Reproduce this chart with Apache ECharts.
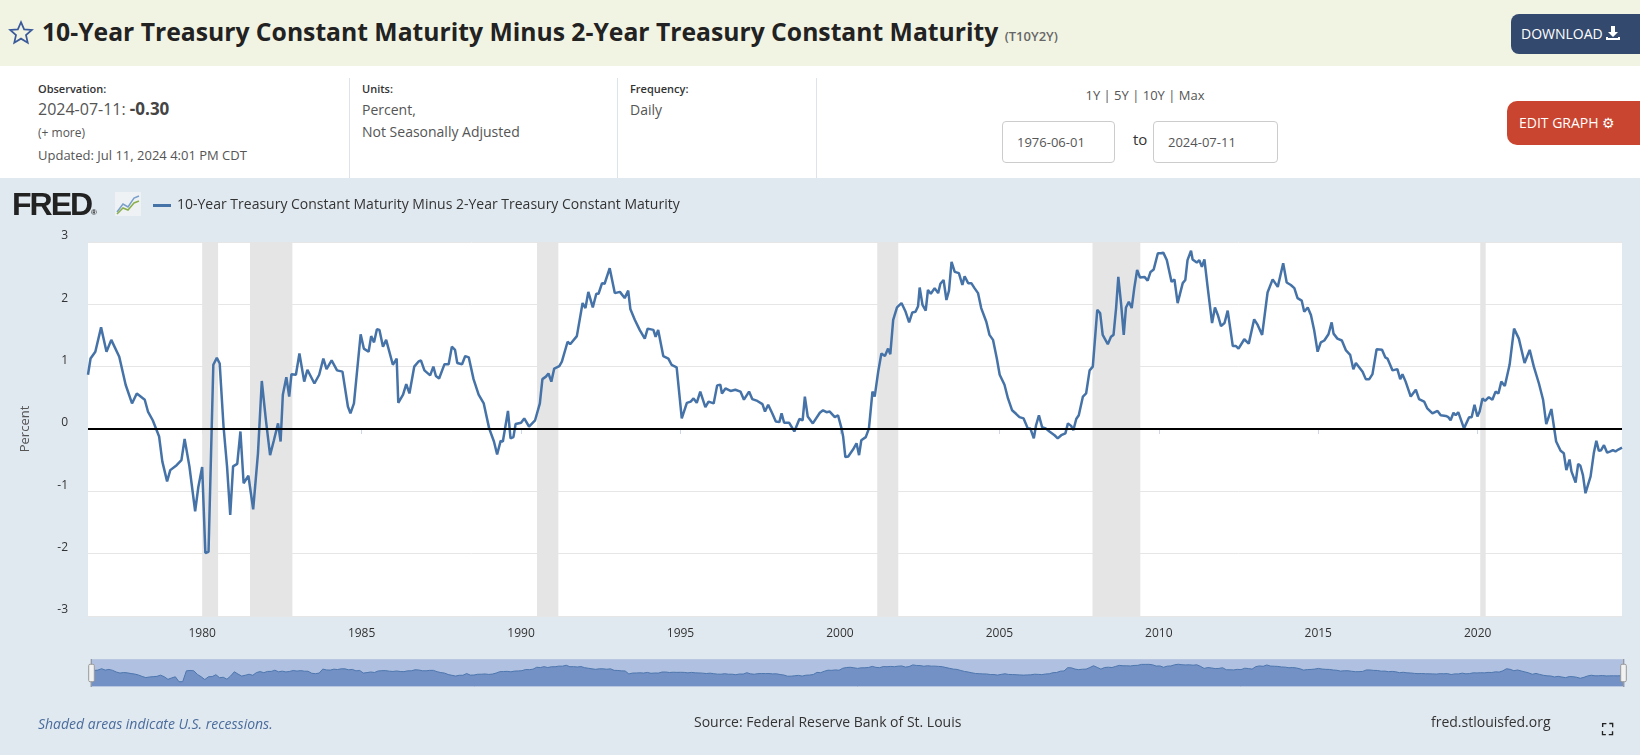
<!DOCTYPE html>
<html>
<head>
<meta charset="utf-8">
<script src="https://cdn.jsdelivr.net/npm/echarts@6/dist/echarts.min.js"></script>
<style>
  body { margin: 0; width: 1640px; height: 755px; overflow: hidden; font-family: "Open Sans", "Noto Sans", sans-serif; background: #fff; position: relative; }
  .abs { position: absolute; white-space: nowrap; }
  #head { position: absolute; left: 0; top: 0; width: 1640px; height: 66px; background: #f2f4e3; }
  #info { position: absolute; left: 0; top: 66px; width: 1640px; height: 112px; background: #fff; }
  .lbl { font-size: 11px; font-weight: 600; color: #333; }
  .val { font-size: 14px; color: #555; line-height: 22px; }
  .div { position: absolute; top: 12px; width: 1px; height: 100px; background: #dde3ea; }
  .inp { position: absolute; border: 1px solid #ccc; border-radius: 4px; font-size: 13px; color: #555; line-height: 40px; padding-left: 14px; box-sizing: border-box; height: 42px; }
  #chartWrap { position: absolute; left: 0; top: 178px; width: 1640px; height: 577px; background: #e1e9f0; }
  #chart { position: absolute; left: 0; top: 0; width: 1640px; height: 577px; }
</style>
</head>
<body>
<div id="head">
  <svg class="abs" style="left:8px;top:20px" width="26" height="26" viewBox="0 0 24 24"><path d="M12 2l2.9 6.6 7.1.6-5.4 4.7 1.6 7-6.2-3.7-6.2 3.7 1.6-7L2 9.2l7.1-.6z" fill="none" stroke="#3b5a9a" stroke-width="1.6"/></svg>
  <div class="abs" style="left:42px;top:15px;font-size:24.7px;font-weight:700;color:#222">10-Year Treasury Constant Maturity Minus 2-Year Treasury Constant Maturity <span style="font-size:13px;font-weight:600;color:#666">(T10Y2Y)</span></div>
  <div class="abs" style="left:1511px;top:14px;width:129px;height:40px;background:#34496e;border-radius:8px 0 0 8px;color:#fff;font-size:14px;line-height:40px;padding-left:10px;box-sizing:border-box">DOWNLOAD <svg width="14" height="14" viewBox="0 0 14 14" style="vertical-align:-1px"><path d="M5 0h4v6h3l-5 5-5-5h3z M0 11h2v1h10v-1h2v3H0z" fill="#fff"/></svg></div>
</div>
<div id="info">
  <div class="abs lbl" style="left:38px;top:15px">Observation:</div>
  <div class="abs val" style="left:38px;top:32px;font-size:16px">2024-07-11: <b style="color:#444;font-size:17px">-0.30</b></div>
  <div class="abs val" style="left:38px;top:56px;font-size:12px">(+ more)</div>
  <div class="abs val" style="left:38px;top:78px;font-size:13px">Updated: Jul 11, 2024 4:01 PM CDT</div>
  <div class="div" style="left:349px"></div>
  <div class="abs lbl" style="left:362px;top:15px">Units:</div>
  <div class="abs val" style="left:362px;top:33px">Percent,<br>Not Seasonally Adjusted</div>
  <div class="div" style="left:617px"></div>
  <div class="abs lbl" style="left:630px;top:15px">Frequency:</div>
  <div class="abs val" style="left:630px;top:33px">Daily</div>
  <div class="div" style="left:816px"></div>
  <div class="abs" style="left:1080px;top:20px;width:130px;text-align:center;font-size:13px;color:#555">1Y | 5Y | 10Y | Max</div>
  <div class="inp" style="left:1002px;top:55px;width:113px">1976-06-01</div>
  <div class="abs" style="left:1133px;top:63px;font-size:15px;color:#333">to</div>
  <div class="inp" style="left:1153px;top:55px;width:125px">2024-07-11</div>
  <div class="abs" style="left:1507px;top:35px;width:133px;height:44px;background:#c9452f;border-radius:10px 0 0 10px;color:#fff;font-size:14px;line-height:44px;padding-left:12px;box-sizing:border-box">EDIT GRAPH &#x2699;</div>
</div>
<div id="chartWrap">
  <div id="chart"></div>
  <div class="abs" style="left:12px;top:8px;font-size:32px;font-weight:900;color:#222;letter-spacing:-2px;font-family:'Liberation Sans',Arial,sans-serif">FRED<span style="font-size:8px">®</span></div>
  <svg class="abs" style="left:115px;top:14px" width="26" height="24"><rect width="26" height="24" fill="#eef2f4"/><polyline points="2,20 8,12 13,15 19,6 24,4" fill="none" stroke="#7a9fcb" stroke-width="1.5"/><polyline points="2,22 8,16 13,18 19,11 24,9" fill="none" stroke="#8bb04b" stroke-width="1.5"/></svg>
  <div class="abs" style="left:153px;top:16px;font-size:14px;color:#333"><span style="display:inline-block;width:18px;height:3px;background:#4572a7;vertical-align:middle;margin-right:6px"></span>10-Year Treasury Constant Maturity Minus 2-Year Treasury Constant Maturity</div>
  <div class="abs" style="left:38px;top:536px;font-size:14px;font-style:italic;color:#4a6c9c">Shaded areas indicate U.S. recessions.</div>
  <div class="abs" style="left:694px;top:534px;font-size:14px;color:#333">Source: Federal Reserve Bank of St. Louis</div>
  <div class="abs" style="left:1431px;top:534px;font-size:14px;color:#333">fred.stlouisfed.org</div>
  <div class="abs" style="left:1602px;top:540px;font-size:16px;color:#222;font-weight:700">&#x26F6;</div>
</div>
<script>
// decimal years and spread values
const years = [
  1976.42, 1976.5, 1976.65, 1976.83, 1977.0, 1977.15, 1977.4, 1977.6, 1977.8, 1977.95,
  1978.2, 1978.3, 1978.45, 1978.65, 1978.75, 1978.9, 1979.0, 1979.2, 1979.35, 1979.45,
  1979.6, 1979.78, 1979.88, 1980.0, 1980.1, 1980.2, 1980.35, 1980.46, 1980.55, 1980.67,
  1980.78, 1980.88, 1980.97, 1981.1, 1981.2, 1981.3, 1981.45, 1981.6, 1981.75, 1981.87,
  1982.0, 1982.13, 1982.25, 1982.38, 1982.46, 1982.53, 1982.64, 1982.73, 1982.8, 1982.94,
  1983.05, 1983.2, 1983.3, 1983.52, 1983.67, 1983.8, 1983.9, 1984.06, 1984.23, 1984.4,
  1984.57, 1984.65, 1984.76, 1984.97, 1985.07, 1985.22, 1985.3, 1985.39, 1985.48, 1985.56,
  1985.67, 1985.77, 1985.98, 1986.1, 1986.15, 1986.3, 1986.4, 1986.5, 1986.65, 1986.78,
  1986.86, 1986.97, 1987.15, 1987.25, 1987.33, 1987.43, 1987.6, 1987.73,
  1987.83, 1987.93, 1988.0, 1988.15, 1988.25, 1988.36, 1988.51, 1988.67, 1988.83, 1989.0,
  1989.15, 1989.25, 1989.36, 1989.43, 1989.59, 1989.67, 1989.76, 1989.83, 1990.0, 1990.1,
  1990.25, 1990.44, 1990.59, 1990.67, 1990.78, 1990.86, 1990.95, 1991.04, 1991.2, 1991.28,
  1991.46, 1991.54, 1991.75, 1991.93, 1992.02, 1992.11, 1992.25, 1992.36, 1992.43, 1992.54,
  1992.62, 1992.78, 1992.94, 1993.1, 1993.25, 1993.36, 1993.43, 1993.57, 1993.72, 1993.88,
  1993.97, 1994.15, 1994.22, 1994.3, 1994.46, 1994.62, 1994.72, 1994.88, 1995.04, 1995.2,
  1995.32, 1995.41, 1995.51, 1995.62, 1995.78, 1995.88, 1996.04, 1996.15, 1996.25, 1996.3,
  1996.41, 1996.57, 1996.72, 1996.88, 1996.99, 1997.15, 1997.25, 1997.41, 1997.57, 1997.65,
  1997.75, 1997.88, 1997.99, 1998.1, 1998.17, 1998.25, 1998.41, 1998.57, 1998.73, 1998.83,
  1998.9, 1998.99, 1999.15,
  1999.37, 1999.47, 1999.58, 1999.68, 1999.84, 1999.94, 2000.05, 2000.1, 2000.17, 2000.26,
  2000.41, 2000.52, 2000.6, 2000.67, 2000.81, 2000.91, 2001.02, 2001.09, 2001.2, 2001.3,
  2001.41, 2001.51, 2001.58, 2001.67, 2001.79, 2001.93, 2002.06, 2002.17, 2002.27, 2002.37,
  2002.45, 2002.5, 2002.59, 2002.69, 2002.76, 2002.85, 2002.97, 2003.08, 2003.15, 2003.25,
  2003.34, 2003.42, 2003.5, 2003.6, 2003.73, 2003.84, 2003.91, 2004.02, 2004.12, 2004.22,
  2004.33, 2004.43, 2004.59, 2004.69, 2004.8, 2004.92, 2005.01, 2005.16, 2005.27, 2005.4,
  2005.53, 2005.63, 2005.76, 2005.89, 2005.97, 2006.08, 2006.15, 2006.24, 2006.34, 2006.45,
  2006.57, 2006.73, 2006.83, 2006.94, 2007.07, 2007.15, 2007.25, 2007.32, 2007.41, 2007.49,
  2007.62, 2007.72, 2007.83, 2007.93, 2008.07, 2008.16, 2008.24, 2008.4, 2008.5, 2008.58,
  2008.66, 2008.73, 2008.82, 2008.9, 2008.97, 2009.06, 2009.15, 2009.23, 2009.32, 2009.41,
  2009.55, 2009.65, 2009.74, 2009.84, 2009.97, 2010.07, 2010.14, 2010.25, 2010.4, 2010.49,
  2010.59, 2010.75, 2010.83, 2010.9,
  2011.01, 2011.06, 2011.19, 2011.27, 2011.35, 2011.43, 2011.53, 2011.67, 2011.76, 2011.85,
  2011.95, 2012.06, 2012.16, 2012.32, 2012.42, 2012.5, 2012.68, 2012.82, 2012.99, 2013.1,
  2013.24, 2013.41, 2013.57, 2013.73, 2013.9, 2014.01, 2014.14, 2014.25, 2014.35, 2014.48,
  2014.56, 2014.67, 2014.77, 2014.87, 2014.98, 2015.08, 2015.19, 2015.32, 2015.42, 2015.48,
  2015.6, 2015.74, 2015.87, 2016.0, 2016.1, 2016.18, 2016.23, 2016.39, 2016.49, 2016.6,
  2016.7, 2016.83, 2017.0, 2017.1, 2017.17, 2017.33, 2017.48, 2017.57, 2017.64, 2017.74,
  2017.9, 2018.06, 2018.16, 2018.32, 2018.42, 2018.58, 2018.74, 2018.84, 2019.0, 2019.08,
  2019.15, 2019.24, 2019.31, 2019.39, 2019.57, 2019.73, 2019.81, 2019.9, 2019.99, 2020.06,
  2020.15, 2020.23, 2020.35, 2020.46, 2020.56, 2020.65, 2020.74, 2020.85, 2021.0, 2021.14,
  2021.29, 2021.47, 2021.63, 2021.76,
  2021.92, 2022.05, 2022.15, 2022.31, 2022.39, 2022.46, 2022.6, 2022.7, 2022.78, 2022.88,
  2022.94, 2023.07, 2023.15, 2023.22, 2023.3, 2023.38, 2023.54, 2023.64, 2023.72, 2023.8,
  2023.87, 2023.96, 2024.06, 2024.16, 2024.24, 2024.32, 2024.41, 2024.525
];
const spread = [
  0.87, 1.13, 1.24, 1.63, 1.24, 1.43, 1.16, 0.71, 0.41, 0.57,
  0.47, 0.28, 0.14, -0.12, -0.52, -0.84, -0.66, -0.58, -0.50, -0.16,
  -0.60, -1.32, -0.93, -0.61, -1.99, -1.97, 1.03, 1.14, 1.05, 0.04,
  -0.60, -1.38, -0.60, -0.56, -0.04, -0.87, -0.75, -1.29, -0.39, 0.77,
  0.14, -0.42, -0.18, 0.09, -0.20, 0.55, 0.83, 0.52, 0.88, 0.87,
  1.21, 0.76, 0.95, 0.73, 0.87, 1.13, 0.96, 1.10, 0.94, 0.92,
  0.36, 0.25, 0.41, 1.52, 1.29, 1.24, 1.49, 1.39, 1.60, 1.59,
  1.32, 1.43, 1.03, 1.13, 0.42, 0.55, 0.72, 0.57, 1.00, 1.08,
  1.10, 0.94, 0.86, 1.00, 0.85, 0.81, 1.04, 1.04,
  1.32, 1.27, 1.06, 1.04, 1.17, 1.15, 0.80, 0.55, 0.41, 0.01,
  -0.20, -0.41, -0.19, -0.20, 0.29, -0.15, -0.13, 0.08, 0.10, 0.17,
  0.04, 0.14, 0.41, 0.80, 0.84, 0.89, 0.76, 0.97, 1.01, 1.08,
  1.40, 1.36, 1.49, 2.02, 1.94, 2.20, 1.95, 2.17, 2.17, 2.34,
  2.33, 2.58, 2.18, 2.20, 2.10, 2.22, 1.92, 1.75, 1.59, 1.45,
  1.61, 1.59, 1.48, 1.59, 1.17, 1.13, 1.03, 0.99, 0.17, 0.42,
  0.44, 0.49, 0.42, 0.60, 0.35, 0.44, 0.41, 0.70, 0.71, 0.57,
  0.65, 0.61, 0.63, 0.60, 0.47, 0.60, 0.48, 0.45, 0.40, 0.28,
  0.39, 0.25, 0.12, 0.11, 0.25, 0.10, 0.10, -0.04, 0.16, 0.14,
  0.52, 0.20, 0.09,
  0.26, 0.30, 0.27, 0.28, 0.19, 0.22, 0.01, -0.12, -0.45, -0.44,
  -0.33, -0.23, -0.42, -0.18, -0.13, 0.01, 0.60, 0.52, 0.92, 1.21,
  1.17, 1.29, 1.20, 1.75, 1.95, 2.02, 1.88, 1.71, 1.87, 1.88,
  1.97, 2.27, 1.99, 1.90, 2.23, 2.17, 2.26, 2.18, 2.33, 2.39,
  2.07, 2.22, 2.68, 2.52, 2.50, 2.31, 2.45, 2.34, 2.34, 2.26,
  2.18, 1.94, 1.72, 1.51, 1.43, 1.13, 0.87, 0.71, 0.49, 0.30,
  0.24, 0.19, 0.17, 0.01, 0.01, -0.15, 0.06, 0.22, 0.03, 0.01,
  -0.04, -0.10, -0.15, -0.10, -0.07, 0.09, 0.05, -0.02, 0.16, 0.22,
  0.52, 0.57, 0.94, 1.00, 1.91, 1.86, 1.51, 1.36, 1.48, 1.51,
  1.94, 2.44, 1.99, 1.51, 1.95, 2.04, 1.94, 2.26, 2.55, 2.43,
  2.44, 2.38, 2.52, 2.56, 2.82, 2.82, 2.83, 2.71, 2.36, 2.40,
  2.02, 2.34, 2.39, 2.71,
  2.86, 2.72, 2.67, 2.71, 2.60, 2.72, 2.28, 1.70, 1.95, 1.83,
  1.65, 1.70, 1.90, 1.33, 1.33, 1.29, 1.44, 1.37, 1.76, 1.67,
  1.51, 2.19, 2.40, 2.28, 2.66, 2.35, 2.31, 2.26, 2.10, 2.06,
  1.88, 1.95, 1.83, 1.59, 1.24, 1.39, 1.42, 1.52, 1.71, 1.53,
  1.45, 1.42, 1.26, 1.19, 0.96, 1.06, 1.06, 0.92, 0.80, 0.80,
  0.88, 1.28, 1.27, 1.15, 1.13, 0.94, 0.96, 0.80, 0.88, 0.76,
  0.52, 0.63, 0.48, 0.44, 0.33, 0.25, 0.29, 0.22, 0.21, 0.19,
  0.14, 0.26, 0.22, 0.27, 0.01, 0.19, 0.19, 0.39, 0.20, 0.28,
  0.49, 0.45, 0.51, 0.47, 0.60, 0.57, 0.76, 0.69, 1.03, 1.61,
  1.45, 1.06, 1.27, 1.00,
  0.73, 0.47, 0.08, 0.32, 0.04, -0.20, -0.35, -0.39, -0.66, -0.49,
  -0.68, -0.86, -0.56, -0.59, -0.74, -1.03, -0.76, -0.39, -0.19, -0.35,
  -0.34, -0.26, -0.38, -0.36, -0.34, -0.36, -0.33, -0.30
];
const tickYears = [1980, 1985, 1990, 1995, 2000, 2005, 2010, 2015, 2020];
// recession start / end as decimal years
const recessionStart = [1980.0, 1981.5, 1990.5, 2001.17, 2007.92, 2020.08];
const recessionEnd = [1980.5, 1982.83, 1991.17, 2001.83, 2009.42, 2020.25];

const points = years.map((y, i) => [y, spread[i]]);

const chart = echarts.init(document.getElementById('chart'));
chart.setOption({
  animation: false,
  textStyle: { fontFamily: 'Open Sans' },
  grid: { left: 88, right: 18, top: 64, bottom: 139, show: true, backgroundColor: '#fff', borderWidth: 0 },
  xAxis: {
    type: 'value',
    min: 1976.42,
    max: 2024.525,
    axisLine: { show: true, lineStyle: { color: '#ccd6eb' } },
    axisTick: { show: true, customValues: tickYears, lineStyle: { color: '#ccd6eb' } },
    splitLine: { show: false },
    axisLabel: { color: '#333', fontSize: 12, margin: 12, customValues: tickYears, formatter: v => String(Math.round(v)) }
  },
  yAxis: {
    type: 'value',
    min: -3, max: 3, interval: 1,
    name: 'Percent', nameLocation: 'middle', nameGap: 56, nameRotate: 90,
    nameTextStyle: { color: '#555', fontSize: 13 },
    axisLine: { show: false }, axisTick: { show: false },
    splitLine: { lineStyle: { color: '#e6e6e6' } },
    axisLabel: { color: '#333', fontSize: 12, margin: 20, verticalAlign: 'bottom' }
  },
  dataZoom: [{
    type: 'slider', left: 88, right: 18, top: 481, height: 28,
    start: 0, end: 100,
    backgroundColor: '#c7d5ea', borderColor: '#b9c8e0',
    fillerColor: 'rgba(102,133,194,0.25)',
    dataBackground: { lineStyle: { color: '#4572a7', width: 1 }, areaStyle: { color: '#6f8fc2', opacity: 0.9 } },
    selectedDataBackground: { lineStyle: { color: '#4572a7', width: 1 }, areaStyle: { color: '#6f8fc2', opacity: 0.9 } },
    handleSize: '100%', handleStyle: { color: '#f2f2f2', borderColor: '#999' },
    showDetail: false, brushSelect: false,
    labelFormatter: ''
  }],
  series: [{
    type: 'line',
    data: points,
    showSymbol: false,
    lineStyle: { color: '#4572a7', width: 2.5 },
    itemStyle: { color: '#4572a7' },
    markArea: {
      silent: true,
      itemStyle: { color: '#e5e5e5' },
      data: recessionStart.map((s, i) => [{ xAxis: s }, { xAxis: recessionEnd[i] }])
    },
    markLine: {
      silent: true, symbol: 'none', label: { show: false },
      lineStyle: { color: '#000', width: 2, type: 'solid' },
      data: [{ yAxis: 0 }]
    }
  }]
});
</script>
</body>
</html>
